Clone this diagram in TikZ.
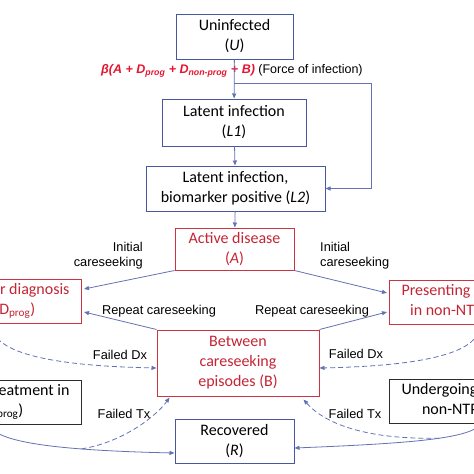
\documentclass[tikz,border=0pt]{standalone}
\usepackage{fontspec}
\setmainfont{Carlito}
\newfontfamily\arial{Liberation Sans}
\usetikzlibrary{arrows.meta,calc}
\definecolor{boxblue}{RGB}{72,88,158}
\definecolor{boxred}{RGB}{204,52,66}
\definecolor{textred}{RGB}{196,36,52}
\definecolor{betared}{RGB}{228,22,48}
\definecolor{boxblack}{RGB}{45,45,45}
\definecolor{arrowblue}{RGB}{98,114,180}
\newcommand\boxfont{\fontsize{16}{20}\selectfont}
\newcommand\lblfont{\arial\fontsize{12.8}{15}\selectfont}

\begin{document}
\begin{tikzpicture}[x=1pt,y=-1pt,
  box/.style={draw=boxblue,line width=1pt,inner sep=0pt,align=center,font=\boxfont},
  redbox/.style={box,draw=boxred,text=textred},
  blackbox/.style={box,draw=boxblack},
  sidebox/.style={inner xsep=12pt,minimum height=44pt},
  lbl/.style={font=\lblfont,inner sep=0pt},
  arr/.style={draw=arrowblue,line width=0.8pt,-{Triangle[length=5pt,width=4pt]}},
  fail/.style={arr,dash pattern=on 5pt off 3pt}]
  \useasboundingbox (0,0) rectangle (474,474);
  \clip (0,0) rectangle (474,474);
  \node (U) at (234.5,36.5) [box,minimum width=117pt,minimum height=45pt] {Uninfected\\(\textit{U})};
  \node (L1) at (234,122.5) [box,minimum width=144pt,minimum height=47pt] {Latent infection\\(\textit{L1})};
  \node (L2) at (235.5,188.5) [box,minimum width=179pt,minimum height=45pt] {Latent infection,\\biomarker positive (\textit{L2})};
  \node (A) at (234.5,249) [redbox,minimum width=119pt,minimum height=42pt] {Active disease\\(\textit{A})};
  \node (B) at (238,363) [redbox,minimum width=162pt,minimum height=66pt] {Between\\careseeking\\episodes (B)};
  \node (R) at (234.5,441) [box,minimum width=119pt,minimum height=44pt] {Recovered\\(\textit{R})};
  \node (Dp) at (82,301) [redbox,sidebox,anchor=east] {Presenting for diagnosis\\in NTP (D\textsubscript{prog})};
  \node (Dn) at (389,302) [redbox,sidebox,anchor=west] {Presenting for diagnosis\\in non-NTP (D\textsubscript{non-prog})};
  \node (Tp) at (82,402) [blackbox,sidebox,anchor=east] {Undergoing treatment in\\NTP (T\textsubscript{prog})};
  \node (Tn) at (389,401) [blackbox,sidebox,anchor=west] {Undergoing treatment in\\non-NTP (T\textsubscript{non-prog})};
  \node (foi) at (101,71) [lbl,anchor=west,font=\arial\fontsize{12.5}{15}\selectfont]
    {{\color{betared}\bfseries\itshape β(A + D\textsubscript{prog} + D\textsubscript{non-prog} + B)} (Force of infection)};
  \node (initL) at (143,256) [lbl,anchor=east,align=right] {Initial\\careseeking};
  \node (initR) at (320,256) [lbl,anchor=west,align=left] {Initial\\careseeking};
  \node (repL) at (159,311) [lbl] {Repeat careseeking};
  \node (repR) at (312,311) [lbl] {Repeat careseeking};
  \node (dxL) at (120,355) [lbl] {Failed Dx};
  \node (dxR) at (356,354) [lbl] {Failed Dx};
  \node (txL) at (124,414) [lbl] {Failed Tx};
  \node (txR) at (355,414) [lbl] {Failed Tx};
  \draw[arr] (U) -- coordinate[pos=0.625] (fork) (L1);
  \draw[arr] (fork) -- ++(137,0) |- (L2.east);
  \draw[arr] (L1) -- (L2);
  \draw[arr] (L2) -- (A);
  \draw[arr] (A.south west) -- ($(Dp.east)+(2,-12)$);
  \draw[arr] (A.south east) -- ($(Dn.west)+(-2,-9)$);
  \draw[arr] (B.north west) -- ($(Dp.east)+(2,11)$);
  \draw[arr] (B.north east) -- ($(Dn.west)+(-2,10)$);
  \draw[fail] (Dp.south) .. controls (-10,355) and (60,366) .. ($(B.west)+(0,5)$);
  \draw[fail] (Dn.south) .. controls (482,355) and (414,366) .. ($(B.east)+(0,5)$);
  \draw[arr] (Tp.south) .. controls (-5,440) and (40,450) .. coordinate[pos=0.72] (splitL) ($(R.west)+(0,12)$);
  \draw[arr] (Tn.south) .. controls (470,438) and (420,443) .. coordinate[pos=0.45] (splitR) ($(R.east)+(0,7)$);
  \draw[fail] (splitL) .. controls (125,442) and (158,414) .. ($(B.south west)+(13,1)$);
  \draw[fail] (splitR) .. controls (350,440) and (318,416) .. ($(B.south east)+(-16,3)$);
\end{tikzpicture}
\end{document}
